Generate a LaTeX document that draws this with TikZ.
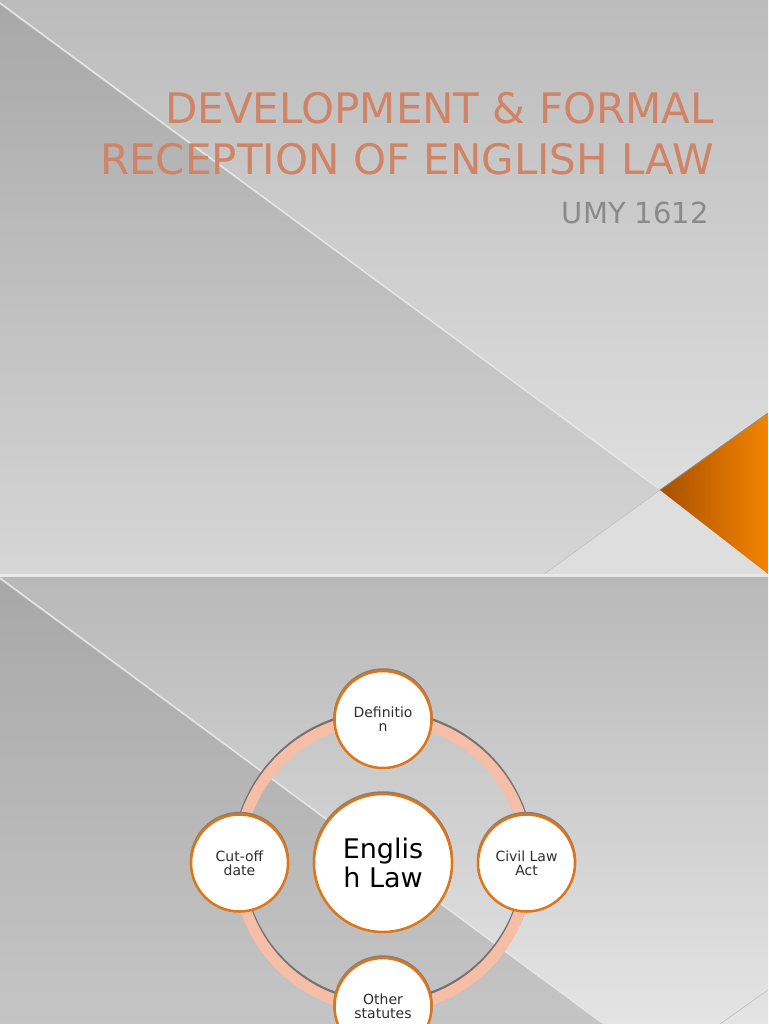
\documentclass[tikz,border=0pt]{standalone}
\usepackage{fontspec}
\setmainfont{DejaVu Sans}
\usetikzlibrary{calc}
\usetikzlibrary{positioning}

\definecolor{ttlorange}{RGB}{209,131,101}
\definecolor{codegray}{RGB}{138,138,138}
\definecolor{ringpink}{RGB}{246,190,166}
\definecolor{rimorange}{RGB}{222,118,24}
\definecolor{orgdark}{RGB}{168,80,0}
\definecolor{orglight}{RGB}{244,132,0}
\definecolor{bgtop}{RGB}{188,188,188}
\definecolor{bgbot}{RGB}{228,228,228}
\definecolor{dktop}{RGB}{168,168,168}
\definecolor{dkbot}{RGB}{214,214,214}

\tikzset{
  sat/.style={circle, draw=rimorange, line width=2.5pt, fill=white, minimum size=97pt,
    inner sep=0pt, outer sep=0pt, align=center, text=black!82,
    font=\fontsize{14}{14}\selectfont,
    preaction={draw=black!50, line width=2.5pt, transform canvas={yshift=1.5pt}}},
  hub/.style={sat, minimum size=138pt, text=black, font=\fontsize{27}{29}\selectfont},
  node distance=26pt
}

\begin{document}
\begin{tikzpicture}[x=1pt, y=-1pt, line join=round]
\useasboundingbox (0,0) rectangle (768,1024);

% title slide
\shade[top color=bgtop, bottom color=bgbot] (0,0) rectangle (768,575);
\shade[top color=dktop, bottom color=dkbot] (0,5)--(660,490)--(543,575)--(0,575)--cycle;
\fill[black!13] (660,490)--(768,575)--(543,575)--cycle;
\draw[white!80!gray, line width=1.5pt] (0,3)--(658,488);
\draw[black!25, line width=.6pt] (660,490)--(543,575);
\shade[left color=orgdark, right color=orglight] (660,490)--(768,413)--(768,574)--cycle;
\draw[black!45, line width=.8pt] (660,490)--(768,413);

\node[anchor=base east, inner sep=0pt, text=ttlorange, font=\fontsize{42}{42}\selectfont] (ttl1) at (714,124) {DEVELOPMENT \& FORMAL};
\node[anchor=base east, inner sep=0pt, text=ttlorange, font=\fontsize{42}{42}\selectfont] (ttl2) at (714,175) {RECEPTION OF ENGLISH LAW};
\node[anchor=base east, inner sep=0pt, text=codegray, font=\fontsize{29}{29}\selectfont] (code) at (709,224) {UMY 1612};

\fill[black!9] (0,574) rectangle (768,577);

% second slide
\shade[top color=bgtop!98!black, bottom color=bgbot] (0,577) rectangle (768,1024);
\shade[top color=dktop, bottom color=dkbot!92!black] (0,580)--(603,1024)--(0,1024)--cycle;
\draw[white!80!gray, line width=1.5pt] (0,578)--(601,1022);
\draw[black!25, line width=.6pt] (768,990)--(720,1024);

\coordinate (O) at (383,863);
\draw[black!55, line width=12pt] ($(O)+(0,-2)$) circle[radius=145pt];
\draw[ringpink, line width=11pt] (O) circle[radius=145pt];

\node[hub] (hub) at (O) {Englis\\h Law};
\node[sat, above=of hub] (defn) {Definitio\\n};
\node[sat, right=of hub] (act) {Civil Law\\Act};
\node[sat, below=of hub] (stat) {Other\\statutes};
\node[sat, left=of hub] (cut) {Cut-off\\date};
\end{tikzpicture}
\end{document}
